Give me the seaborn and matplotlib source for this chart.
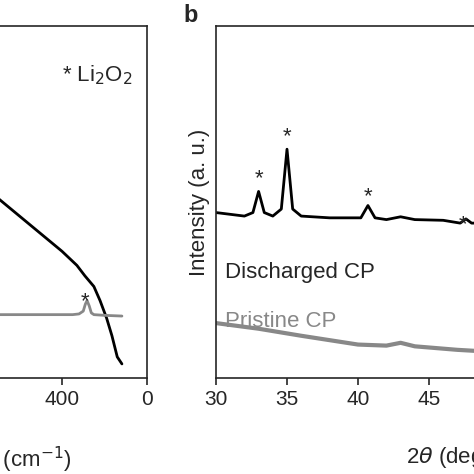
import numpy as np
import matplotlib
matplotlib.use("Agg")
import matplotlib.pyplot as plt
import seaborn as sns

sns.set_style("ticks")
plt.rcParams['font.family'] = ['Liberation Sans', 'DejaVu Sans']

# Left panel (Raman) data
raman_x_black = [700, 600, 500, 400, 330, 292, 250, 221, 190, 165, 140, 118]
raman_y_black = [0.51, 0.46, 0.41, 0.36, 0.32, 0.29, 0.26, 0.22, 0.17, 0.12, 0.06, 0.04]
raman_x_gray = [700, 500, 350, 320, 300, 290, 282, 272, 262, 250, 200, 118]
raman_y_gray = [0.18, 0.18, 0.18, 0.182, 0.19, 0.21, 0.22, 0.205, 0.185, 0.18, 0.178, 0.176]

# Right panel (XRD) data
xrd_x_black = [30, 31, 32, 32.6, 33.0, 33.4, 34, 34.6, 35.0, 35.4, 36, 38, 40.2, 40.7, 41.2, 42, 43, 44, 46, 47.2, 47.6, 48, 48.8, 49.2, 50, 52, 55]
xrd_y_black = [0.47, 0.465, 0.46, 0.47, 0.53, 0.47, 0.46, 0.48, 0.65, 0.48, 0.46, 0.455, 0.455, 0.49, 0.455, 0.45, 0.458, 0.45, 0.448, 0.44, 0.452, 0.44, 0.44, 0.465, 0.44, 0.44, 0.44]
xrd_x_gray = [30, 33, 36, 40, 42, 43, 44, 47, 50, 55]
xrd_y_gray = [0.156, 0.14, 0.12, 0.095, 0.092, 0.1, 0.09, 0.08, 0.073, 0.065]
star_x = [33.0, 35.0, 40.7, 47.4, 48.5]
star_y = [0.55, 0.67, 0.50, 0.42, 0.45]

W = 474
fig = plt.figure(figsize=(4.74, 4.74), dpi=100)
bot = 1 - 378 / W
h = (378 - 26) / W
FS = 16

# left axis
wpx = 1800 * 85 / 400
axL = fig.add_axes([(147 - wpx) / W, bot, wpx / W, h])
sns.lineplot(x=raman_x_black, y=raman_y_black, ax=axL, color='black', lw=2, sort=False)
sns.lineplot(x=raman_x_gray, y=raman_y_gray, ax=axL, color='#888888', lw=2, sort=False)
axL.set_xlim(1800, 0)
axL.set_ylim(0, 1)
axL.set_xticks([800, 400, 0])
axL.set_yticks([])
axL.text(292, 0.2, '*', fontsize=FS, ha='center')
axL.text(235, 0.86, '* Li$_2$O$_2$', fontsize=FS, ha='center', va='center')
axL.set_xlabel('Raman shift (cm$^{-1}$)', fontsize=FS)
axL.xaxis.set_label_coords(0.55, -0.19)

# right axis
axR = fig.add_axes([216 / W, bot, 25 * 14.2 / W, h])
sns.lineplot(x=xrd_x_black, y=xrd_y_black, ax=axR, color='black', lw=2, sort=False)
sns.lineplot(x=xrd_x_gray, y=xrd_y_gray, ax=axR, color='#888888', lw=3, sort=False)
for sx, sy in zip(star_x, star_y):
    axR.text(sx, sy, '*', fontsize=FS, ha='center')
axR.set_xlim(30, 55)
axR.set_ylim(0, 1)
axR.set_xticks([30, 35, 40, 45, 50, 55])
axR.set_yticks([])
axR.text(30.6, 0.30, 'Discharged CP', fontsize=FS, va='center')
axR.text(30.6, 0.16, 'Pristine CP', fontsize=FS, va='center', color='#888888')
axR.set_ylabel('Intensity (a. u.)', fontsize=FS)
axR.set_xlabel(r'2$\it{\theta}$ (degree)', fontsize=FS)
axR.xaxis.set_label_coords(0.7, -0.19)
fig.text(183 / W, 1 - 15 / W, 'b', fontsize=17, fontweight='bold', va='center')

for ax in (axL, axR):
    ax.tick_params(labelsize=15, width=1.2, length=5)
    for s in ax.spines.values():
        s.set_linewidth(1.2)

fig.savefig('out.png', dpi=100)
